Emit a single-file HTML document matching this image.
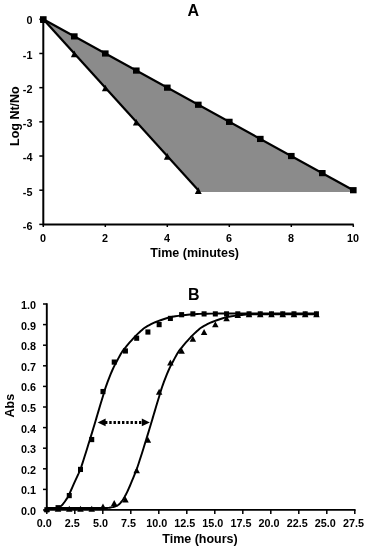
<!DOCTYPE html>
<html><head><meta charset="utf-8"><title>Figure</title>
<style>
html,body{margin:0;padding:0;background:#fff;}
body{width:368px;height:550px;overflow:hidden;}
svg{display:block;}
text{font-family:"Liberation Sans",Arial,sans-serif;font-weight:bold;fill:#000;}
.t{font-size:10.8px;}
.l{font-size:12.5px;}
.h{font-size:16px;}
</style></head><body>
<svg width="368" height="550" viewBox="0 0 368 550">
<rect width="368" height="550" fill="#fff"/>

<polygon points="43.30,19.30 353.30,190.20 353.30,192.00 199.90,192.00 198.30,190.20" fill="#8b8b8b"/>
<g stroke="#000" stroke-width="2" fill="none" stroke-linecap="butt">
<path d="M43.30 18.30 V224.38 H353.70"/>
</g>
<g stroke="#000" stroke-width="1.5" fill="none">
<path d="M39.30 19.30 H43.30"/>
<path d="M39.30 53.48 H43.30"/>
<path d="M39.30 87.66 H43.30"/>
<path d="M39.30 121.84 H43.30"/>
<path d="M39.30 156.02 H43.30"/>
<path d="M39.30 190.20 H43.30"/>
<path d="M39.30 224.38 H43.30"/>
<path d="M43.30 224.38 V226.98"/>
<path d="M105.30 224.38 V226.98"/>
<path d="M167.30 224.38 V226.98"/>
<path d="M229.30 224.38 V226.98"/>
<path d="M291.30 224.38 V226.98"/>
<path d="M353.30 224.38 V226.98"/>
</g>
<g stroke="#000" stroke-width="2.2" fill="none">
<path d="M43.30 19.30 L353.30 190.20"/>
<path d="M43.30 19.30 L198.30 190.20"/>
</g>
<g fill="#000">
<path d="M43.30 16.40 L46.70 23.00 L39.90 23.00 Z"/>
<path d="M74.30 50.58 L77.70 57.18 L70.90 57.18 Z"/>
<path d="M105.30 84.76 L108.70 91.36 L101.90 91.36 Z"/>
<path d="M136.30 118.94 L139.70 125.54 L132.90 125.54 Z"/>
<path d="M167.30 153.12 L170.70 159.72 L163.90 159.72 Z"/>
<path d="M198.30 187.30 L201.70 193.90 L194.90 193.90 Z"/>
<rect x="40.00" y="16.20" width="6.60" height="6.20"/>
<rect x="71.00" y="33.29" width="6.60" height="6.20"/>
<rect x="102.00" y="50.38" width="6.60" height="6.20"/>
<rect x="133.00" y="67.47" width="6.60" height="6.20"/>
<rect x="164.00" y="84.56" width="6.60" height="6.20"/>
<rect x="195.00" y="101.65" width="6.60" height="6.20"/>
<rect x="226.00" y="118.74" width="6.60" height="6.20"/>
<rect x="257.00" y="135.83" width="6.60" height="6.20"/>
<rect x="288.00" y="152.92" width="6.60" height="6.20"/>
<rect x="319.00" y="170.01" width="6.60" height="6.20"/>
<rect x="350.00" y="187.10" width="6.60" height="6.20"/>
</g>
<text class="t" x="32.4" y="24.30" text-anchor="end">0</text>
<text class="t" x="32.4" y="58.58" text-anchor="end">-1</text>
<text class="t" x="32.4" y="92.86" text-anchor="end">-2</text>
<text class="t" x="32.4" y="127.14" text-anchor="end">-3</text>
<text class="t" x="32.4" y="161.42" text-anchor="end">-4</text>
<text class="t" x="32.4" y="195.70" text-anchor="end">-5</text>
<text class="t" x="32.4" y="229.98" text-anchor="end">-6</text>
<text class="t" x="42.90" y="241.7" text-anchor="middle">0</text>
<text class="t" x="104.90" y="241.7" text-anchor="middle">2</text>
<text class="t" x="166.90" y="241.7" text-anchor="middle">4</text>
<text class="t" x="228.90" y="241.7" text-anchor="middle">6</text>
<text class="t" x="290.90" y="241.7" text-anchor="middle">8</text>
<text class="t" x="352.90" y="241.7" text-anchor="middle">10</text>
<text class="h" x="193.3" y="15.8" text-anchor="middle">A</text>
<text class="l" x="194.7" y="257" text-anchor="middle">Time (minutes)</text>
<text class="l" transform="translate(19.1 116.1) rotate(-90)" text-anchor="middle">Log Nt/No</text>
<g stroke="#000" stroke-width="1.9" fill="none">
<path d="M46.80 303.20 V509.90 H355.60"/>
</g>
<g stroke="#000" stroke-width="1.5" fill="none">
<path d="M43.00 510.00 H46.80"/>
<path d="M43.00 489.40 H46.80"/>
<path d="M43.00 468.80 H46.80"/>
<path d="M43.00 448.20 H46.80"/>
<path d="M43.00 427.60 H46.80"/>
<path d="M43.00 407.00 H46.80"/>
<path d="M43.00 386.40 H46.80"/>
<path d="M43.00 365.80 H46.80"/>
<path d="M43.00 345.20 H46.80"/>
<path d="M43.00 324.60 H46.80"/>
<path d="M43.00 304.00 H46.80"/>
<path d="M46.80 510.00 V514.00"/>
<path d="M74.80 510.00 V514.00"/>
<path d="M102.80 510.00 V514.00"/>
<path d="M130.80 510.00 V514.00"/>
<path d="M158.80 510.00 V514.00"/>
<path d="M186.80 510.00 V514.00"/>
<path d="M214.80 510.00 V514.00"/>
<path d="M242.80 510.00 V514.00"/>
<path d="M270.80 510.00 V514.00"/>
<path d="M298.80 510.00 V514.00"/>
<path d="M326.80 510.00 V514.00"/>
<path d="M354.80 510.00 V514.00"/>
</g>
<g stroke="#000" stroke-width="1.95" fill="none" stroke-linejoin="round">
<path d="M47.00 507.90 L48.55 507.91 L50.79 507.94 L53.14 507.94 L55.00 507.90 L56.20 507.80 L57.06 507.67 L57.74 507.50 L58.40 507.30 L59.04 507.08 L59.58 506.83 L60.09 506.54 L60.60 506.20 L61.10 505.84 L61.58 505.46 L62.09 504.97 L62.70 504.30 L63.45 503.38 L64.31 502.27 L65.19 501.07 L66.00 499.90 L66.67 498.91 L67.25 498.01 L67.88 496.90 L68.70 495.30 L69.73 493.11 L70.91 490.48 L72.20 487.54 L73.60 484.40 L75.18 480.96 L76.93 477.19 L78.66 473.36 L80.20 469.70 L81.44 466.36 L82.50 463.18 L83.51 459.96 L84.60 456.50 L85.81 452.70 L87.07 448.68 L88.34 444.57 L89.60 440.50 L90.88 436.35 L92.19 432.09 L93.42 428.04 L94.50 424.50 L95.31 421.80 L95.92 419.69 L96.53 417.61 L97.30 415.00 L98.31 411.62 L99.45 407.79 L100.64 403.82 L101.80 400.00 L102.87 396.42 L103.91 392.92 L104.99 389.41 L106.20 385.80 L107.61 381.92 L109.17 377.88 L110.74 373.96 L112.20 370.50 L113.50 367.64 L114.72 365.19 L115.90 362.94 L117.10 360.70 L118.36 358.34 L119.66 356.00 L120.89 353.83 L122.00 352.00 L122.91 350.63 L123.69 349.61 L124.43 348.74 L125.20 347.80 L125.98 346.82 L126.74 345.89 L127.58 344.88 L128.60 343.70 L129.88 342.23 L131.34 340.56 L132.86 338.86 L134.30 337.30 L135.64 335.92 L136.93 334.63 L138.21 333.40 L139.50 332.20 L140.77 331.03 L142.03 329.91 L143.32 328.83 L144.70 327.80 L146.18 326.83 L147.74 325.91 L149.35 325.04 L151.00 324.20 L152.60 323.43 L154.18 322.71 L155.92 321.99 L158.00 321.20 L160.56 320.26 L163.47 319.23 L166.53 318.24 L169.50 317.40 L172.41 316.77 L175.35 316.27 L178.21 315.87 L180.90 315.50 L183.32 315.18 L185.54 314.92 L187.72 314.70 L190.00 314.50 L192.32 314.31 L194.63 314.16 L197.13 314.02 L200.00 313.90 L203.40 313.80 L207.19 313.72 L211.13 313.65 L215.00 313.60 L217.09 313.56 L218.06 313.53 L221.26 313.51 L230.00 313.50 L248.52 313.49 L273.94 313.49 L298.88 313.50 L316.00 313.50"/>
<path d="M47.00 507.90 L57.58 507.90 L73.00 507.90 L88.67 507.90 L100.00 507.90 L105.28 507.91 L107.12 507.93 L107.41 507.94 L108.00 507.90 L109.10 507.81 L109.81 507.69 L110.37 507.54 L111.00 507.40 L111.73 507.28 L112.46 507.16 L113.20 507.02 L114.00 506.80 L114.90 506.51 L115.86 506.17 L116.82 505.77 L117.70 505.30 L118.47 504.77 L119.16 504.18 L119.83 503.53 L120.50 502.80 L121.18 502.00 L121.86 501.14 L122.53 500.20 L123.20 499.20 L123.87 498.14 L124.53 497.02 L125.20 495.81 L125.90 494.50 L126.61 493.09 L127.34 491.59 L128.10 489.97 L128.90 488.20 L129.75 486.24 L130.64 484.13 L131.56 481.90 L132.50 479.60 L133.46 477.29 L134.45 474.94 L135.46 472.44 L136.50 469.70 L137.56 466.70 L138.64 463.48 L139.75 460.07 L140.90 456.50 L142.11 452.70 L143.37 448.68 L144.64 444.57 L145.90 440.50 L147.18 436.35 L148.49 432.09 L149.72 428.04 L150.80 424.50 L151.61 421.80 L152.23 419.69 L152.83 417.61 L153.60 415.00 L154.61 411.62 L155.75 407.79 L156.94 403.82 L158.10 400.00 L159.17 396.42 L160.21 392.92 L161.29 389.41 L162.50 385.80 L163.91 381.92 L165.47 377.88 L167.04 373.96 L168.50 370.50 L169.80 367.64 L171.02 365.19 L172.20 362.94 L173.40 360.70 L174.66 358.34 L175.96 356.00 L177.19 353.83 L178.30 352.00 L179.21 350.63 L179.99 349.61 L180.73 348.74 L181.50 347.80 L182.28 346.82 L183.04 345.89 L183.88 344.88 L184.90 343.70 L186.17 342.23 L187.64 340.56 L189.16 338.86 L190.60 337.30 L191.94 335.92 L193.23 334.63 L194.51 333.40 L195.80 332.20 L197.07 331.03 L198.33 329.91 L199.62 328.83 L201.00 327.80 L202.48 326.83 L204.04 325.91 L205.65 325.04 L207.30 324.20 L208.90 323.43 L210.48 322.71 L212.22 321.99 L214.30 321.20 L216.86 320.26 L219.78 319.23 L222.83 318.24 L225.80 317.40 L228.72 316.77 L231.67 316.27 L234.54 315.86 L237.20 315.50 L239.55 315.19 L241.69 314.95 L243.78 314.76 L246.00 314.60 L248.32 314.48 L250.68 314.39 L253.19 314.34 L256.00 314.30 L258.47 314.28 L260.75 314.28 L264.16 314.29 L270.00 314.30 L280.33 314.30 L293.88 314.30 L306.98 314.30 L316.00 314.30"/>
</g>
<g fill="#000">
<path d="M46.80 505.65 L50.05 511.65 L43.55 511.65 Z"/>
<path d="M58.03 505.65 L61.28 511.65 L54.78 511.65 Z"/>
<path d="M69.27 505.65 L72.52 511.65 L66.02 511.65 Z"/>
<path d="M80.50 505.65 L83.75 511.65 L77.25 511.65 Z"/>
<path d="M91.74 505.65 L94.99 511.65 L88.49 511.65 Z"/>
<path d="M102.97 503.39 L106.22 509.39 L99.72 509.39 Z"/>
<path d="M114.21 499.88 L117.46 505.88 L110.96 505.88 Z"/>
<path d="M125.44 496.59 L128.69 502.59 L122.19 502.59 Z"/>
<path d="M136.68 467.34 L139.93 473.34 L133.43 473.34 Z"/>
<path d="M147.91 436.85 L151.16 442.85 L144.66 442.85 Z"/>
<path d="M159.15 388.85 L162.40 394.85 L155.90 394.85 Z"/>
<path d="M170.38 359.39 L173.63 365.39 L167.13 365.39 Z"/>
<path d="M181.62 347.65 L184.87 353.65 L178.37 353.65 Z"/>
<path d="M192.86 335.70 L196.11 341.70 L189.61 341.70 Z"/>
<path d="M204.09 328.90 L207.34 334.90 L200.84 334.90 Z"/>
<path d="M215.32 321.28 L218.57 327.28 L212.07 327.28 Z"/>
<path d="M226.56 315.31 L229.81 321.31 L223.31 321.31 Z"/>
<path d="M237.80 312.01 L241.05 318.01 L234.55 318.01 Z"/>
<path d="M249.03 311.19 L252.28 317.19 L245.78 317.19 Z"/>
<path d="M260.26 311.19 L263.51 317.19 L257.01 317.19 Z"/>
<path d="M271.50 311.19 L274.75 317.19 L268.25 317.19 Z"/>
<path d="M282.74 311.19 L285.99 317.19 L279.49 317.19 Z"/>
<path d="M293.97 311.19 L297.22 317.19 L290.72 317.19 Z"/>
<path d="M305.20 311.19 L308.45 317.19 L301.95 317.19 Z"/>
<path d="M316.44 311.19 L319.69 317.19 L313.19 317.19 Z"/>
<rect x="44.30" y="507.19" width="5.00" height="5.20"/>
<rect x="55.53" y="505.13" width="5.00" height="5.20"/>
<rect x="66.77" y="492.98" width="5.00" height="5.20"/>
<rect x="78.00" y="466.82" width="5.00" height="5.20"/>
<rect x="89.24" y="436.95" width="5.00" height="5.20"/>
<rect x="100.47" y="388.95" width="5.00" height="5.20"/>
<rect x="111.71" y="359.49" width="5.00" height="5.20"/>
<rect x="122.94" y="348.37" width="5.00" height="5.20"/>
<rect x="134.18" y="335.60" width="5.00" height="5.20"/>
<rect x="145.41" y="329.42" width="5.00" height="5.20"/>
<rect x="156.65" y="322.00" width="5.00" height="5.20"/>
<rect x="167.88" y="315.82" width="5.00" height="5.20"/>
<rect x="179.12" y="312.11" width="5.00" height="5.20"/>
<rect x="190.36" y="311.29" width="5.00" height="5.20"/>
<rect x="201.59" y="311.29" width="5.00" height="5.20"/>
<rect x="212.82" y="311.29" width="5.00" height="5.20"/>
<rect x="224.06" y="311.29" width="5.00" height="5.20"/>
<rect x="235.30" y="311.29" width="5.00" height="5.20"/>
<rect x="246.53" y="311.29" width="5.00" height="5.20"/>
<rect x="257.76" y="311.29" width="5.00" height="5.20"/>
<rect x="269.00" y="311.29" width="5.00" height="5.20"/>
<rect x="280.24" y="311.29" width="5.00" height="5.20"/>
<rect x="291.47" y="311.29" width="5.00" height="5.20"/>
<rect x="302.70" y="311.29" width="5.00" height="5.20"/>
<rect x="313.94" y="311.29" width="5.00" height="5.20"/>
</g>
<path d="M105 422.40 H142" stroke="#000" stroke-width="3" stroke-dasharray="2.4 1.85" fill="none"/>
<path d="M97.6 422.40 L105.6 418.60 L105.6 426.20 Z" fill="#000"/>
<path d="M149.8 422.40 L141.8 418.60 L141.8 426.20 Z" fill="#000"/>
<text class="t" x="36.0" y="515.00" text-anchor="end">0.0</text>
<text class="t" x="36.0" y="494.40" text-anchor="end">0.1</text>
<text class="t" x="36.0" y="473.80" text-anchor="end">0.2</text>
<text class="t" x="36.0" y="453.20" text-anchor="end">0.3</text>
<text class="t" x="36.0" y="432.60" text-anchor="end">0.4</text>
<text class="t" x="36.0" y="412.00" text-anchor="end">0.5</text>
<text class="t" x="36.0" y="391.40" text-anchor="end">0.6</text>
<text class="t" x="36.0" y="370.80" text-anchor="end">0.7</text>
<text class="t" x="36.0" y="350.20" text-anchor="end">0.8</text>
<text class="t" x="36.0" y="329.60" text-anchor="end">0.9</text>
<text class="t" x="36.0" y="309.00" text-anchor="end">1.0</text>
<text class="t" x="44.20" y="526.8" text-anchor="middle">0.0</text>
<text class="t" x="72.31" y="526.8" text-anchor="middle">2.5</text>
<text class="t" x="100.42" y="526.8" text-anchor="middle">5.0</text>
<text class="t" x="128.54" y="526.8" text-anchor="middle">7.5</text>
<text class="t" x="156.65" y="526.8" text-anchor="middle">10.0</text>
<text class="t" x="184.76" y="526.8" text-anchor="middle">12.5</text>
<text class="t" x="212.88" y="526.8" text-anchor="middle">15.0</text>
<text class="t" x="240.99" y="526.8" text-anchor="middle">17.5</text>
<text class="t" x="269.10" y="526.8" text-anchor="middle">20.0</text>
<text class="t" x="297.21" y="526.8" text-anchor="middle">22.5</text>
<text class="t" x="325.32" y="526.8" text-anchor="middle">25.0</text>
<text class="t" x="353.44" y="526.8" text-anchor="middle">27.5</text>
<text class="h" x="193.8" y="300.3" text-anchor="middle">B</text>
<text class="l" x="200" y="542.7" text-anchor="middle">Time (hours)</text>
<text class="l" transform="translate(13.7 405.6) rotate(-90)" text-anchor="middle">Abs</text>
</svg></body></html>
